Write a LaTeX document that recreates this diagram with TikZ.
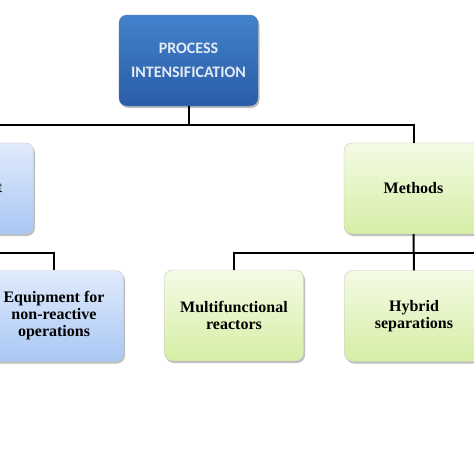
\documentclass[tikz,border=0pt]{standalone}
\usepackage{fontspec}
\setmainfont{Liberation Serif}
\newfontfamily\calibrifont{Carlito}
\usetikzlibrary{shadows}
\definecolor{pitop}{HTML}{4282CC}
\definecolor{pibot}{HTML}{2A5CA6}
\definecolor{pitext}{HTML}{E4EBF5}
\definecolor{bltop}{HTML}{E0EBFC}
\definecolor{blbot}{HTML}{A9C7F4}
\definecolor{grtop}{HTML}{F4FBE4}
\definecolor{grbot}{HTML}{D6EEA6}
\begin{document}
\begin{tikzpicture}[x=1pt,y=-1pt,
  boxbase/.style={rounded corners=8pt, minimum width=139pt, minimum height=91pt,
    align=center, inner sep=2pt,
    drop shadow={shadow xshift=1.5pt, shadow yshift=-2pt, opacity=0.25, fill=black}},
  topbox/.style={boxbase, draw=pibot!80!white, top color=pitop, bottom color=pibot,
    text=pitext, font=\calibrifont\bfseries\fontsize{16}{24}\selectfont},
  bluebox/.style={boxbase, draw=gray!45, top color=bltop, bottom color=blbot,
    font=\bfseries\fontsize{16}{17}\selectfont},
  greenbox/.style={boxbase, draw=gray!45, top color=grtop, bottom color=grbot,
    font=\bfseries\fontsize{16}{17}\selectfont},
  link/.style={draw=black, line width=2pt}]
\useasboundingbox (0,0) rectangle (474,474);
\fill[white] (0,0) rectangle (474,474);
\node[topbox] (pi) at (188.5,60.5) {PROCESS\\INTENSIFICATION};
\node[bluebox] (equip) at (-36,188.5) {Equipment};
\node[greenbox] (methods) at (413.5,188.5) {Methods};
\node[bluebox] (nonreact) at (54,316) {Equipment for\\non-reactive\\operations};
\node[greenbox] (multi) at (234,315.5) {Multifunctional\\reactors};
\node[greenbox] (hybrid) at (414,316) {Hybrid\\separations};
\coordinate (bus1) at (188.5,125);
\coordinate (bus2) at (414,253);
\coordinate (rightend) at (490,253);
\coordinate (leftend) at (-140,253);
\draw[link] (pi.south) -- (bus1);
\draw[link] (equip.north) |- (bus1) -| (methods.north);
\draw[link] (methods.south) -- (hybrid.north);
\draw[link] (multi.north) |- (bus2) -- (rightend);
\draw[link] (nonreact.north) |- (leftend);
\draw[link] (equip.south) -- (equip.south |- leftend);
\end{tikzpicture}
\end{document}
